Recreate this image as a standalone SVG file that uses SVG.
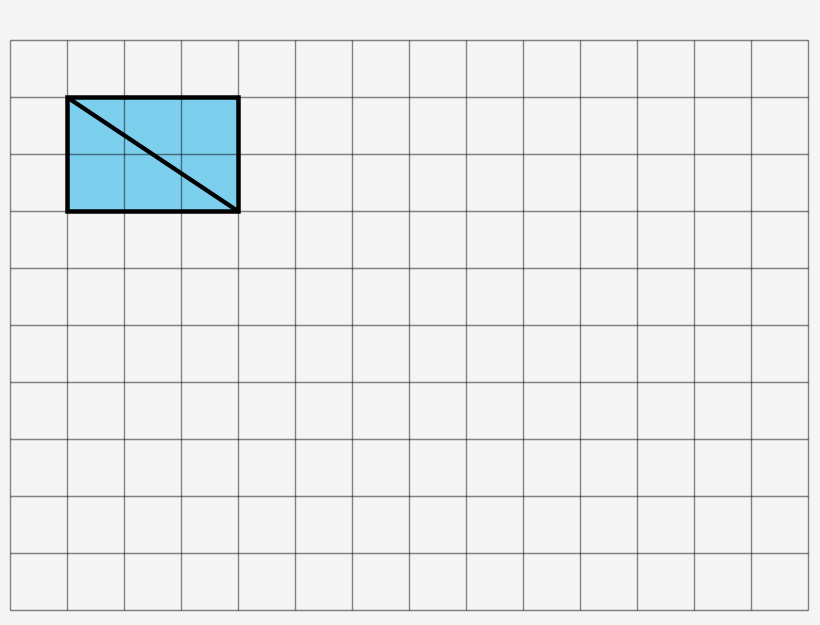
<svg xmlns="http://www.w3.org/2000/svg" width="820" height="625" viewBox="0 0 820 625">
<style>
.grid line{stroke:#000;stroke-opacity:0.47;stroke-width:1.4}
.outline{fill:none;stroke:#000;stroke-width:4.5;stroke-linejoin:miter}
</style>
<rect x="0" y="0" width="820" height="625" fill="#f5f5f5"/>
<g id="shade">
<rect x="67.5" y="97.5" width="171" height="114" fill="#7dcfee"/>
</g>
<g id="grid" class="grid">
<line x1="10.5" y1="40.5" x2="10.5" y2="610.5"/>
<line x1="67.5" y1="40.5" x2="67.5" y2="610.5"/>
<line x1="124.5" y1="40.5" x2="124.5" y2="610.5"/>
<line x1="181.5" y1="40.5" x2="181.5" y2="610.5"/>
<line x1="238.5" y1="40.5" x2="238.5" y2="610.5"/>
<line x1="295.5" y1="40.5" x2="295.5" y2="610.5"/>
<line x1="352.5" y1="40.5" x2="352.5" y2="610.5"/>
<line x1="409.5" y1="40.5" x2="409.5" y2="610.5"/>
<line x1="466.5" y1="40.5" x2="466.5" y2="610.5"/>
<line x1="523.5" y1="40.5" x2="523.5" y2="610.5"/>
<line x1="580.5" y1="40.5" x2="580.5" y2="610.5"/>
<line x1="637.5" y1="40.5" x2="637.5" y2="610.5"/>
<line x1="694.5" y1="40.5" x2="694.5" y2="610.5"/>
<line x1="751.5" y1="40.5" x2="751.5" y2="610.5"/>
<line x1="808.5" y1="40.5" x2="808.5" y2="610.5"/>
<line x1="10.5" y1="40.5" x2="808.5" y2="40.5"/>
<line x1="10.5" y1="97.5" x2="808.5" y2="97.5"/>
<line x1="10.5" y1="154.5" x2="808.5" y2="154.5"/>
<line x1="10.5" y1="211.5" x2="808.5" y2="211.5"/>
<line x1="10.5" y1="268.5" x2="808.5" y2="268.5"/>
<line x1="10.5" y1="325.5" x2="808.5" y2="325.5"/>
<line x1="10.5" y1="382.5" x2="808.5" y2="382.5"/>
<line x1="10.5" y1="439.5" x2="808.5" y2="439.5"/>
<line x1="10.5" y1="496.5" x2="808.5" y2="496.5"/>
<line x1="10.5" y1="553.5" x2="808.5" y2="553.5"/>
<line x1="10.5" y1="610.5" x2="808.5" y2="610.5"/>
</g>
<g id="rectangle">
<rect class="outline" x="67.5" y="97.5" width="171" height="114"/>
<line class="outline" x1="67.5" y1="97.5" x2="238.5" y2="211.5"/>
</g>
</svg>
